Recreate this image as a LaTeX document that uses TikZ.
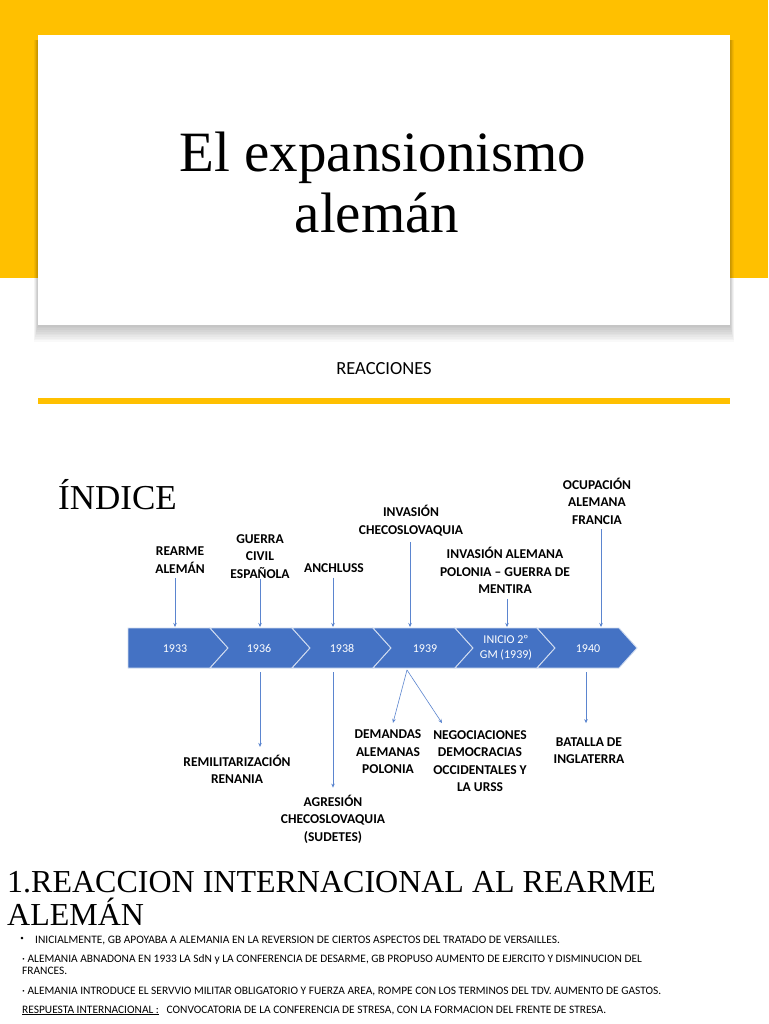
\documentclass[tikz,border=0pt]{standalone}
\usepackage{fontspec}
\setmainfont{Liberation Serif}
\newfontfamily\calfont{Carlito}
\usetikzlibrary{positioning,arrows.meta,calc}
\definecolor{gold}{HTML}{FFC000}
\definecolor{chevblue}{HTML}{4472C4}
\definecolor{linkblue}{HTML}{5B85CF}

\begin{document}
\begin{tikzpicture}[x=1pt,y=-1pt,
  evt/.style={font=\calfont\bfseries\fontsize{13.5}{17.5}\selectfont,align=center,inner sep=0pt},
  yr/.style={font=\calfont\fontsize{12}{15}\selectfont,text=white,align=center,inner sep=0pt},
  arr/.style={draw=linkblue,line width=0.6pt,-{Stealth[length=4pt,width=3.5pt]}},
  chev/.style={fill=chevblue,draw=white!75!chevblue,line width=0.9pt},
  body/.style={font=\calfont\fontsize{11.4}{13}\selectfont,anchor=base west,inner sep=0pt}]

\useasboundingbox (0,0) rectangle (768,1024);
\fill[white] (0,0) rectangle (768,1024);
\fill[gold] (0,0) rectangle (768,278);

% card with shadow
\foreach \s in {1,...,10}
  \fill[black,opacity=0.022] (38-\s*0.4,40) rectangle (730+\s*0.4,325+\s*1.7);
\fill[white] (38,35) rectangle (730,325);
\node[font=\fontsize{57}{61}\selectfont,anchor=base,inner sep=0pt] (title1) at (383,172) {El expansionismo};
\node[font=\fontsize{57}{61}\selectfont,anchor=base,inner sep=0pt] (title2) at (377,233) {alemán};

\node[font=\calfont\fontsize{18.5}{20}\selectfont,anchor=base,inner sep=0pt] (sub) at (384,374) {REACCIONES};
\fill[gold] (38,398) rectangle (730,404);

\node[font=\fontsize{35}{40}\selectfont,anchor=base west,inner sep=0pt] (indice) at (58,509) {ÍNDICE};

% chevrons
\fill[chev] (128,628) -- (210,628) -- (228,648) -- (210,668) -- (128,668) -- cycle;
\foreach \a/\b in {210/292,292/373,373/455,455/537,537/619}
  \fill[chev] (\a,628) -- (\b,628) -- (\b+18,648) -- (\b,668) -- (\a,668) -- (\a+18,648) -- cycle;

\node[yr,anchor=base] (y1933) at (175,652.5) {1933};
\node[yr,anchor=base] (y1936) at (259,652.5) {1936};
\node[yr,anchor=base] (y1938) at (342,652.5) {1938};
\node[yr,anchor=base] (y1939) at (425,652.5) {1939};
\node[yr] (yinicio) at (506,648) {INICIO 2º\\GM (1939)};
\node[yr,anchor=base] (y1940) at (588,652.5) {1940};

% arrow ends on the timeline
\coordinate (up1) at (175,627);
\coordinate (up2) at (260,627);
\coordinate (up3) at (333,627);
\coordinate (up4) at (410,627);
\coordinate (up5) at (507,627);
\coordinate (up6) at (601,627);
\coordinate (dn2) at (260,672);
\coordinate (dn3) at (333,672);
\coordinate (dn4) at (407,670);
\coordinate (dn6) at (586,672);

% events above
\node[evt] (rearme) at (180,560) {REARME\\ALEMÁN};
\node[evt] (guerra) at (260,556.5) {GUERRA\\CIVIL\\ESPAÑOLA};
\node[evt] (anschluss) at (334,568) {ANCHLUSS};
\node[evt] (invcheco) at (411,520.5) {INVASIÓN\\CHECOSLOVAQUIA};
\node[evt] (invpol) at (505,570.5) {INVASIÓN ALEMANA\\POLONIA – GUERRA DE\\MENTIRA};
\node[evt] (francia) at (597,501) {OCUPACIÓN\\ALEMANA\\FRANCIA};

% events below
\node[evt] (remil) at (237,769.5) {REMILITARIZACIÓN\\RENANIA};
\node[evt] (agresion) at (333,819) {AGRESIÓN\\CHECOSLOVAQUIA\\(SUDETES)};
\node[evt] (demandas) at (388,752) {DEMANDAS\\ALEMANAS\\POLONIA};
\node[evt] (negoc) at (480,761) {NEGOCIACIONES\\DEMOCRACIAS\\OCCIDENTALES Y\\LA URSS};
\node[evt] (batalla) at (589,750.5) {BATALLA DE\\INGLATERRA};

\draw[arr,shorten <=5pt] (rearme.south -| up1) -- (up1);
\draw[arr] (guerra.south -| up2) -- (up2);
\draw[arr,shorten <=5pt] (anschluss.south -| up3) -- (up3);
\draw[arr,shorten <=6pt] (invcheco.south -| up4) -- (up4);
\draw[arr,shorten <=5pt] (invpol.south -| up5) -- (up5);
\draw[arr,shorten <=5pt] (francia.south -| up6) -- (up6);

\draw[arr,shorten >=8pt] (dn2) -- (remil.north -| dn2);
\draw[arr,shorten >=7pt] (dn3) -- (agresion.north -| dn3);
\draw[arr] (dn4) -- ($(demandas.north)+(5,-7)$);
\draw[arr] (dn4) -- ($(negoc.north)+(-38,-7)$);
\draw[arr,shorten >=14pt] (dn6) -- (batalla.north -| dn6);

% section text
\node[font=\fontsize{32}{32}\selectfont,anchor=base west,inner sep=0pt] (sec1) at (7,892) {1.REACCION INTERNACIONAL AL REARME};
\node[font=\fontsize{32}{32}\selectfont,anchor=base west,inner sep=0pt] (sec1b) at (7,925) {ALEMÁN};

\node[font=\calfont\fontsize{7}{8}\selectfont,inner sep=0pt] (bul) at (22,939) {•};
\node[body] (l1) at (35,943) {INICIALMENTE, GB APOYABA A ALEMANIA EN LA REVERSION DE CIERTOS ASPECTOS DEL TRATADO DE VERSAILLES.};
\node[body] (l2) at (22,962) {· ALEMANIA ABNADONA EN 1933 LA SdN y LA CONFERENCIA DE DESARME, GB PROPUSO AUMENTO DE EJERCITO Y DISMINUCION DEL};
\node[body] (l2b) at (22,974) {FRANCES.};
\node[body] (l3) at (22,994) {· ALEMANIA INTRODUCE EL SERVVIO MILITAR OBLIGATORIO Y FUERZA AREA, ROMPE CON LOS TERMINOS DEL TDV. AUMENTO DE GASTOS.};
\node[body] (l4) at (22,1013) {\underline{RESPUESTA INTERNACIONAL :}\hspace{5pt} CONVOCATORIA DE LA CONFERENCIA DE STRESA, CON LA FORMACION DEL FRENTE DE STRESA.};
\end{tikzpicture}
\end{document}
